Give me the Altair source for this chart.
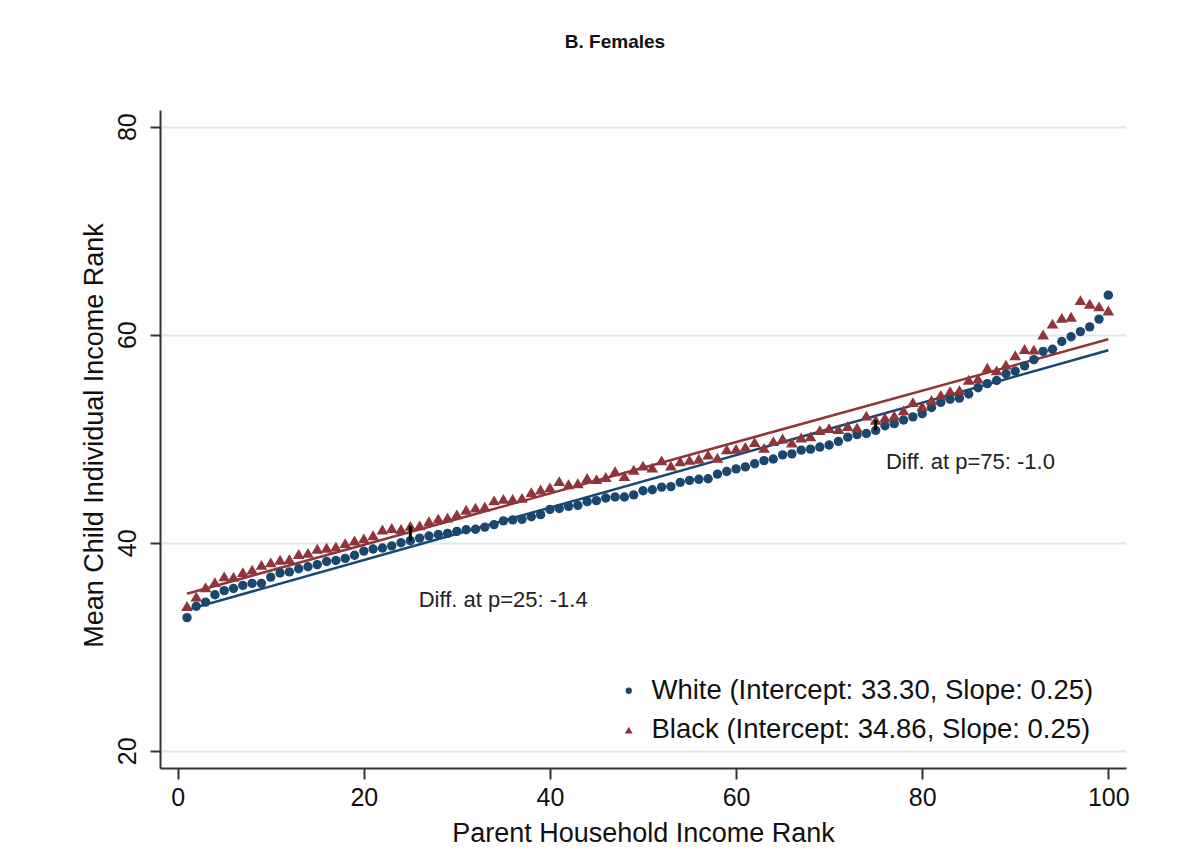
import altair as alt
import pandas as pd

# ---------------- data ----------------
parent_rank = list(range(1, 101))

white_rank = [
    32.8, 33.9, 34.3, 35.0, 35.4, 35.6, 35.9, 36.1, 36.1, 36.7,
    37.1, 37.2, 37.5, 37.7, 37.9, 38.2, 38.3, 38.5, 38.8, 39.2,
    39.4, 39.5, 39.7, 40.0, 40.2, 40.45, 40.65, 40.8, 40.9, 41.1,
    41.25, 41.3, 41.5, 41.75, 42.1, 42.2, 42.25, 42.5, 42.7, 43.2,
    43.3, 43.5, 43.6, 43.95, 44.05, 44.3, 44.4, 44.4, 44.6, 45.0,
    45.1, 45.35, 45.4, 45.8, 46.0, 46.1, 46.15, 46.6, 46.85, 47.1,
    47.3, 47.6, 47.9, 48.05, 48.45, 48.55, 48.9, 49.0, 49.2, 49.4,
    49.75, 50.15, 50.4, 50.5, 50.8, 51.25, 51.45, 51.8, 52.1, 52.4,
    53.0, 53.5, 53.8, 53.9, 54.3, 54.9, 55.3, 55.6, 56.25, 56.5,
    57.0, 57.6, 58.4, 58.6, 59.35, 59.8, 60.3, 60.75, 61.5, 63.8,
]

black_rank = [
    33.9, 34.8, 35.7, 36.2, 36.75, 36.7, 37.15, 37.4, 37.85, 38.1,
    38.35, 38.4, 38.9, 39.0, 39.4, 39.5, 39.6, 39.95, 40.2, 40.4,
    40.7, 41.25, 41.4, 41.3, 41.6, 41.65, 42.05, 42.3, 42.4, 42.7,
    43.15, 43.35, 43.45, 44.05, 44.2, 44.2, 44.3, 44.85, 45.1, 45.3,
    45.9, 45.6, 45.7, 46.2, 46.1, 46.3, 46.85, 46.4, 47.0, 47.4,
    47.2, 47.9, 47.4, 47.8, 47.95, 48.05, 48.45, 48.15, 48.95, 49.0,
    49.2, 49.65, 49.1, 49.75, 50.0, 49.6, 50.1, 50.2, 50.8, 51.0,
    50.9, 51.2, 51.05, 52.2, 51.8, 52.0, 52.2, 52.7, 53.5, 53.1,
    53.7, 54.2, 54.55, 54.65, 55.65, 55.75, 56.8, 56.55, 57.1, 58.0,
    58.6, 58.55, 60.0, 61.05, 61.6, 61.7, 63.3, 62.95, 62.7, 62.3,
]

series_labels = [
    "White (Intercept: 33.30, Slope: 0.25)",
    "Black (Intercept: 34.86, Slope: 0.25)",
]
series_colors = ["#1a476f", "#90353b"]
series_shapes = ["circle", "M0,-1.1L1.25,1L-1.25,1Z"]

fit_intercepts = [33.30, 34.86]
fit_slopes = [0.252, 0.247]
fit_range = [1, 100]

diff_ranks = [25, 75]
diff_texts = ["Diff. at p=25: -1.4", "Diff. at p=75: -1.0"]
diff_text_x = [25.9, 76.1]
diff_text_y = [34.5, 47.8]

x_ticks = [0, 20, 40, 60, 80, 100]
y_ticks = [20, 40, 60, 80]

FONT = "Liberation Sans"

# ---------------- tables ----------------
points = pd.DataFrame({
    "p": parent_rank + parent_rank,
    "rank": white_rank + black_rank,
    "series": [series_labels[0]] * len(parent_rank) + [series_labels[1]] * len(parent_rank),
})

diffs = pd.DataFrame({
    "p": diff_ranks,
    "rank": [white_rank[p - 1] for p in diff_ranks],
    "rank2": [black_rank[p - 1] for p in diff_ranks],
})

notes = pd.DataFrame({"p": diff_text_x, "rank": diff_text_y, "text": diff_texts})

# ---------------- scales / axes ----------------
xscale = alt.Scale(domain=[-1.9, 101.9], nice=False, zero=False)
yscale = alt.Scale(domain=[18.35, 81.6], nice=False, zero=False)

xaxis = alt.Axis(
    values=x_ticks, title="Parent Household Income Rank", grid=False,
    labelFontSize=25, labelFont=FONT, labelColor="#111", labelPadding=26,
    labelBaseline="alphabetic",
    titleFontSize=27, titleFont=FONT, titleFontWeight="normal", titleColor="#111",
    titleY=73, titleBaseline="alphabetic",
    tickSize=11, tickWidth=2, tickColor="#333", domainColor="#333", domainWidth=2,
)
yaxis = alt.Axis(
    values=y_ticks, title="Mean Child Individual Income Rank", grid=True,
    gridColor="#dde8e8", gridWidth=2,
    labelAngle=270, labelAlign="center", labelBaseline="alphabetic", labelPadding=15,
    labelFontSize=25, labelFont=FONT, labelColor="#111",
    titleFontSize=27, titleFont=FONT, titleFontWeight="normal", titleColor="#111",
    titleX=-58, titleY=325, titleAngle=270, titleBaseline="alphabetic",
    tickSize=10, tickWidth=2, tickColor="#333", domainColor="#333", domainWidth=2,
)


def make_legend():
    return alt.Legend(
        orient="none", legendX=455, legendY=567, title=None,
        labelFontSize=27.5, labelFont=FONT, labelColor="#111", labelLimit=800,
        symbolSize=40, labelOffset=9, rowPadding=10.5,
    )


base_x = alt.X("p:Q", scale=xscale, axis=xaxis)
base_y = alt.Y("rank:Q", scale=yscale, axis=yaxis)

line_layers = []
for lab, a, b, col in zip(series_labels, fit_intercepts, fit_slopes, series_colors):
    fit_df = pd.DataFrame({"p": fit_range, "rank": [a + b * p for p in fit_range]})
    line_layers.append(
        alt.Chart(fit_df).mark_line(strokeWidth=2.5, color=col).encode(x=base_x, y=base_y)
    )

dots = alt.Chart(points).mark_point(filled=True, opacity=1, size=88).encode(
    x=base_x, y=base_y,
    color=alt.Color(
        "series:N",
        scale=alt.Scale(domain=series_labels, range=series_colors),
        legend=make_legend(),
    ),
    shape=alt.Shape(
        "series:N",
        scale=alt.Scale(domain=series_labels, range=series_shapes),
        legend=make_legend(),
    ),
)

bars = alt.Chart(diffs).mark_rule(color="#000", strokeWidth=3).encode(
    x=base_x, y=base_y, y2="rank2:Q",
)

texts = alt.Chart(notes).mark_text(
    align="left", baseline="middle", fontSize=22, font=FONT, color="#222",
).encode(x=base_x, y=base_y, text="text:N")

chart = alt.layer(*line_layers, dots, bars, texts).properties(
    width=966, height=658,
    title=alt.TitleParams(
        "B. Females", font=FONT, fontSize=19, fontWeight="bold", color="#111",
        anchor="middle", dx=-28, offset=43, baseline="alphabetic",
    ),
    autosize=alt.AutoSizeParams(type="none"),
    padding={"left": 152, "top": 102, "right": 66, "bottom": 87},
).configure_view(stroke=None)

chart.save("out.html", embed_options={"renderer": "svg", "actions": False})
